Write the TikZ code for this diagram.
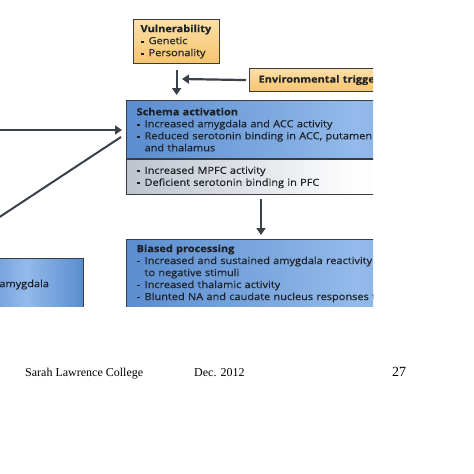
\documentclass[tikz,border=0pt]{standalone}
\usepackage{fontspec}
\setmainfont{Liberation Serif}
\newfontfamily\boxfont{Open Sans}[FakeStretch=1.12, FakeBold=0.4]
\usepackage{tikz}
\usetikzlibrary{arrows.meta, positioning}
\definecolor{edge}{HTML}{3A3C40}
\definecolor{arr}{HTML}{3B4149}
\definecolor{orlight}{HTML}{FCE0A8}
\definecolor{ordark}{HTML}{F7C46C}
\definecolor{bldark}{HTML}{5A8DCF}
\definecolor{bllight}{HTML}{93BAEA}
\definecolor{grdark}{HTML}{BDC4CE}
\definecolor{txt}{HTML}{1E2228}
\newcommand{\bul}{\makebox[8pt][l]{\raisebox{0.3ex}{\rule{3pt}{1.8pt}}}}
\newcommand{\cont}{\hspace*{8pt}}

\begin{document}
\begin{tikzpicture}[
  x=1pt, y=-1pt,
  font=\boxfont\fontsize{9.8}{12}\selectfont,
  text=txt,
  obox/.style={draw=edge, line width=1.2pt, top color=orlight, bottom color=ordark,
    align=left, anchor=north west, inner xsep=7pt, inner ysep=0pt},
  bbox/.style={draw=edge, line width=1.2pt, left color=bldark, right color=bldark,
    middle color=bllight, align=left, anchor=north west, inner xsep=10pt, inner ysep=0pt},
  gbox/.style={draw=edge, line width=1.2pt, left color=grdark, right color=grdark!60,
    middle color=white, align=left, anchor=north west, inner xsep=10pt, inner ysep=0pt},
  arrow/.style={-{Triangle[width=9pt,length=7pt]}, line width=2.2pt, draw=arr},
  plain/.style={line width=2pt, draw=arr},
  foot/.style={font=\rmfamily\fontsize{12}{14}\selectfont, text=black, inner sep=0pt, anchor=base west}
]

\useasboundingbox (0,0) rectangle (474,474);

\begin{scope}
\clip (0,0) rectangle (373,306);

% --- Inputs ---
\node[obox, minimum width=86pt, minimum height=44pt, text width=72pt] (vuln) at (133,19)
{\textbf{Vulnerability}\\
\bul Genetic\\
\bul Personality};

\node[obox, minimum height=23pt, text width=200pt, inner xsep=9pt] (env) at (249,68)
{\textbf{Environmental triggers}};

% --- Schema activation ---
\node[bbox, minimum height=58pt, text width=440pt] (schematop) at (126,100)
{\textbf{Schema activation}\\
\bul Increased amygdala and ACC activity\\
\bul Reduced serotonin binding in ACC, putamen\\
\cont and thalamus};

\node[gbox, minimum height=35pt, text width=440pt] (schemabot) at (schematop.south west)
{\bul Increased MPFC activity\\
\bul Deficient serotonin binding in PFC};

% --- Biased processing ---
\node[bbox, inner ysep=5pt, text width=440pt] (biased) at (126,239)
{\textbf{Biased processing}\\
\bul Increased and sustained amygdala reactivity\\
\cont to negative stimuli\\
\bul Increased thalamic activity\\
\bul Blunted NA and caudate nucleus responses to\\
\cont };

% --- Left box ---
\node[bbox, anchor=north east, inner xsep=30pt, text width=54pt, minimum height=52pt] (amyg) at (84,258)
{amygdala};

% --- Arrows ---
\coordinate (join) at (182,79);
\coordinate (leftin) at (-5,130);
\coordinate (diagin) at (-5,220);
\coordinate (diagout) at (121,137);
\coordinate (mid) at (261,0);

\draw[arrow, shorten <=6pt, shorten >=5pt] (vuln.south) -- (vuln.south |- schematop.north);
\draw[arrow, shorten <=3pt] (env.west) -- (join);
\draw[arrow, shorten >=4pt] (leftin) -- (leftin -| schematop.west);
\draw[plain] (diagin) -- (diagout);
\draw[arrow, shorten <=4pt, shorten >=4pt] (mid |- schemabot.south) -- (mid |- biased.north);
\end{scope}

% --- Footer ---
\node[foot] (college) at (25,376) {Sarah Lawrence College};
\node[foot] (date) at (194,376) {Dec. 2012};
\node[foot, font=\rmfamily\fontsize{14}{16}\selectfont] (page) at (392,376) {27};

\end{tikzpicture}
\end{document}
